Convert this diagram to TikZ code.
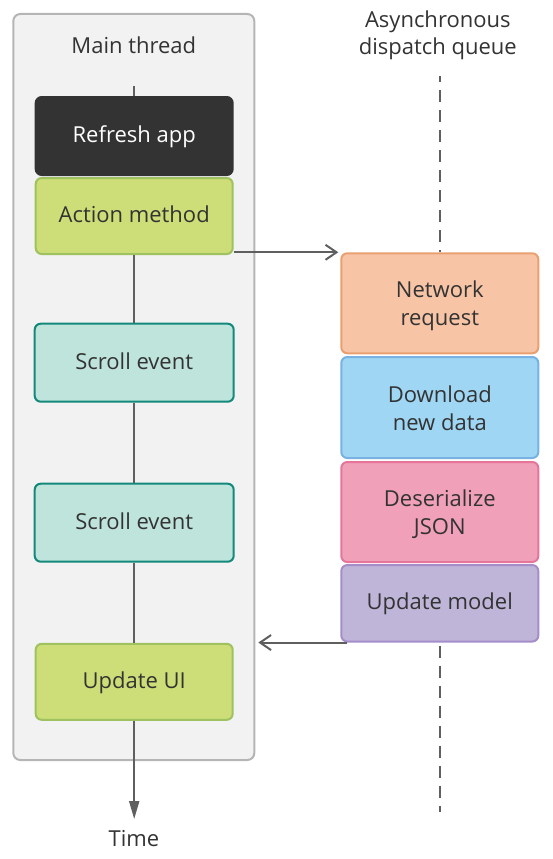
\documentclass[tikz,border=0pt]{standalone}
\usepackage{fontspec}
\setmainfont{Open Sans}
\usetikzlibrary{arrows.meta}
\definecolor{panelfill}{HTML}{F2F2F2}
\definecolor{panelline}{HTML}{B5B5B5}
\definecolor{txt}{HTML}{333333}
\definecolor{conncol}{HTML}{5F5F5F}
\definecolor{darkfill}{HTML}{333333}
\definecolor{greenfill}{HTML}{CDDD77}
\definecolor{greenline}{HTML}{9DC25F}
\definecolor{tealfill}{HTML}{BFE4DB}
\definecolor{tealline}{HTML}{13897B}
\definecolor{orangefill}{HTML}{F8C4A6}
\definecolor{orangeline}{HTML}{E9A071}
\definecolor{bluefill}{HTML}{9FD6F4}
\definecolor{blueline}{HTML}{77B2E2}
\definecolor{pinkfill}{HTML}{F0A0B8}
\definecolor{pinkline}{HTML}{E57699}
\definecolor{purplefill}{HTML}{BFB5D9}
\definecolor{purpleline}{HTML}{A48DC8}
\tikzset{
  lbl/.style={font=\fontsize{22}{28}\selectfont, text=txt, inner sep=0pt},
  box/.style={lbl, rounded corners=6pt, line width=2pt, minimum width=197pt, inner sep=0pt},
  oneline/.style={text height=16pt, text depth=3pt},
  twoline/.style={align=center, text height=46pt, text depth=1pt},
  panelbox/.style={draw=panelline, fill=panelfill, line width=2pt, rounded corners=7pt, inner sep=0pt},
  conn/.style={draw=conncol, line width=2pt},
  dashline/.style={conn, dash pattern=on 12pt off 8pt},
  barb/.style={-{Straight Barb[length=11pt, width=15pt]}},
  timearrow/.style={-{Triangle[length=18pt, width=10pt]}}
}
\begin{document}
\begin{tikzpicture}[x=1pt, y=-1pt]
\useasboundingbox (0,0) rectangle (552,859);
% panel
\node[panelbox, minimum width=241pt, minimum height=746pt] (panel) at (133.8,387) {};
\node[lbl, anchor=base] (mainlbl) at (133.8,54) {Main thread};
\node[lbl, anchor=base] (asynclbl) at (437.8,28) {Asynchronous};
\node[lbl, anchor=base] (dispatchlbl) at (437.8,55) {dispatch queue};
% main thread boxes
\node[box, oneline, fill=darkfill, draw=darkfill, text=white, minimum height=78pt] (refresh) at (134.2,136) {Refresh app};
\node[box, oneline, fill=greenfill, draw=greenline, minimum height=76pt] (action) at (134.2,216) {Action method};
\node[box, oneline, fill=tealfill, draw=tealline, minimum height=78pt, minimum width=199pt] (scrollA) at (134.2,362.7) {Scroll event};
\node[box, oneline, fill=tealfill, draw=tealline, minimum height=78pt, minimum width=199pt] (scrollB) at (134.2,522.7) {Scroll event};
\node[box, oneline, fill=greenfill, draw=greenline, minimum height=76pt] (updui) at (134.2,681.8) {Update UI};
% queue boxes
\node[box, twoline, fill=orangefill, draw=orangeline, minimum height=100pt] (net) at (439.8,303.3) {Network\\request};
\node[box, twoline, fill=bluefill, draw=blueline, minimum height=101pt] (dl) at (439.8,407.5) {Download\\new data};
\node[box, twoline, fill=pinkfill, draw=pinkline, minimum height=100pt] (des) at (439.8,512) {Deserialize\\JSON};
\node[box, oneline, fill=purplefill, draw=purpleline, minimum height=76.5pt] (mdl) at (439.8,603.3) {Update model};
% coordinates
\coordinate (mttop) at (134.2,86);
\coordinate (timeend) at (134.2,819);
\coordinate (aqtop) at (439.8,76);
\coordinate (aqbot) at (439.8,812);
\node[lbl, anchor=base] (timelbl) at (134,846) {Time};
% main thread line
\draw[conn] (mttop) -- (refresh.north);
\draw[conn] (action.south) -- (scrollA.north);
\draw[conn] (scrollA.south) -- (scrollB.north);
\draw[conn] (scrollB.south) -- (updui.north);
\draw[conn, timearrow] (updui.south) -- (timeend);
% queue dashed line
\draw[dashline, dash phase=6pt] (aqtop) -- (net.north);
\draw[dashline, dash phase=17pt] (mdl.south) -- (aqbot);
% cross arrows
\draw[conn, barb] (action.east |- net.north) -- ([xshift=-2pt]net.north west);
\draw[conn, barb] ([xshift=7pt]mdl.south west) -- ([xshift=3pt]panel.east |- mdl.south);
\end{tikzpicture}
\end{document}
